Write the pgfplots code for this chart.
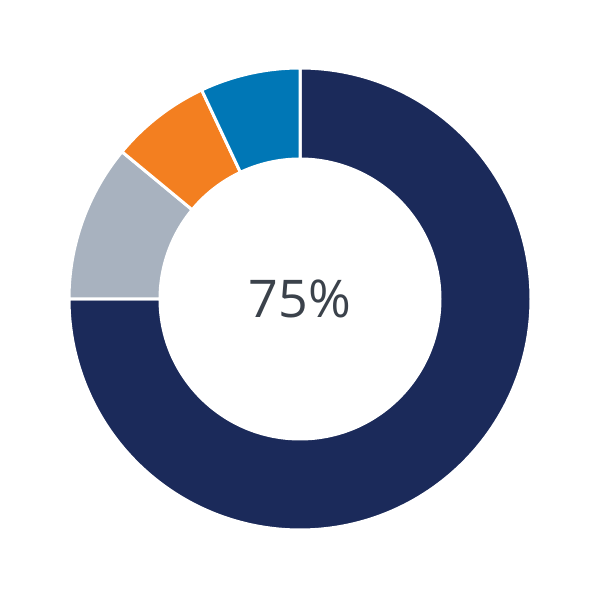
\documentclass[border=0pt]{standalone}
\usepackage{pgfplots}
\usepackage{pgfplotstable}
\pgfplotsset{compat=1.18}
\usepackage{fontspec}
\setmainfont{Open Sans}
\definecolor{cnavy}{HTML}{1B2A5A}
\definecolor{cgrey}{HTML}{A8B2BF}
\definecolor{corange}{HTML}{F37F20}
\definecolor{cblue}{HTML}{0077B6}
\definecolor{ctext}{HTML}{3B424B}
\pgfplotstableread{
label value col
A 75 cnavy
B 11 cgrey
C 7 corange
D 7 cblue
}\donut
\begin{document}
\begin{tikzpicture}
\begin{axis}[
  width=600pt, height=599pt, scale only axis,
  xmin=0, xmax=600, ymin=0, ymax=599,
  hide axis, clip=false]
\path (axis cs:0,0) rectangle (axis cs:600,599);
\def\startang{90}
\pgfplotsforeachungrouped \i in {0,...,3}{%
  \pgfplotstablegetelem{\i}{value}\of\donut \let\v\pgfplotsretval
  \pgfplotstablegetelem{\i}{col}\of\donut \let\c\pgfplotsretval
  \pgfmathsetmacro\endang{\startang - 3.6*\v}%
  \pgfmathsetmacro\xa{300+231*cos(\startang)}%
  \pgfmathsetmacro\ya{300+231*sin(\startang)}%
  \pgfmathsetmacro\xb{300+140*cos(\endang)}%
  \pgfmathsetmacro\yb{300+140*sin(\endang)}%
  \edef\temp{\noexpand\filldraw[fill=\c, draw=white, line width=3pt, line join=miter]
    (axis cs:\xa,\ya) arc[start angle=\startang, end angle=\endang, radius=231pt]
    -- (axis cs:\xb,\yb) arc[start angle=\endang, end angle=\startang, radius=140pt] -- cycle;}%
  \temp
  \let\startang\endang
}
\node[text=ctext, font=\fontsize{52}{60}\selectfont] at (axis cs:300,300) {75\%};
\end{axis}
\end{tikzpicture}
\end{document}
